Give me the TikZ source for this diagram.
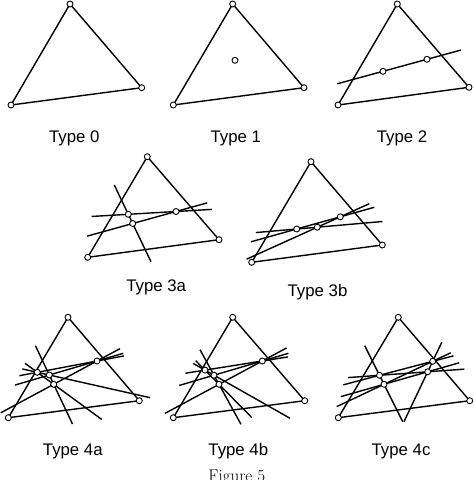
\documentclass[tikz,border=0pt]{standalone}
\usepackage{fontspec}
\setsansfont{Liberation Sans}
\usetikzlibrary{calc}

\begin{document}
\begin{tikzpicture}[x=1pt,y=-1pt]
\tikzset{
vertex/.style = {draw, circle, fill=white, inner sep=0pt, minimum size=6pt, line width=0.9pt},
segment/.style = {line width=1.4pt},
typelabel/.style = {anchor=base, font=\sffamily\fontsize{16.8}{19}\selectfont},
figlabel/.style = {anchor=base, font=\fontsize{17}{19}\selectfont}
}
\useasboundingbox (0,0) rectangle (474,480);

% Type 0
\coordinate (t0top) at (70,4);
\coordinate (t0right) at (141.7,87.7);
\coordinate (t0left) at (11,105);
\draw [segment] (t0top) -- (t0right) -- (t0left) -- cycle;
\node [vertex] (v0a) at (t0top) {};
\node [vertex] (v0b) at (t0right) {};
\node [vertex] (v0c) at (t0left) {};
\node [typelabel] (type0) at (74.3,142) {Type 0};

% Type 1
\coordinate (t1top) at (232.7,4);
\coordinate (t1right) at (304,87.7);
\coordinate (t1left) at (173.3,105);
\coordinate (t1p) at (235,60.3);
\draw [segment] (t1top) -- (t1right) -- (t1left) -- cycle;
\node [vertex] (v1a) at (t1top) {};
\node [vertex] (v1b) at (t1right) {};
\node [vertex] (v1c) at (t1left) {};
\node [vertex] (v1p) at (t1p) {};
\node [typelabel] (type1) at (235.8,142) {Type 1};

% Type 2
\coordinate (t2top) at (397.3,4);
\coordinate (t2right) at (469,87.3);
\coordinate (t2left) at (338,105);
\coordinate (t2p) at (383,71.3);
\coordinate (t2q) at (427,59.3);
\draw [segment] (t2top) -- (t2right) -- (t2left) -- cycle;
\draw [segment] ($(t2p)!-1.04!(t2q)$) -- ($(t2p)!1.77!(t2q)$);
\node [vertex] (v2a) at (t2top) {};
\node [vertex] (v2b) at (t2right) {};
\node [vertex] (v2c) at (t2left) {};
\node [vertex] (v2p) at (t2p) {};
\node [vertex] (v2q) at (t2q) {};
\node [typelabel] (type2) at (402,142) {Type 2};

% Type 3a
\coordinate (t3top) at (147.3,156.7);
\coordinate (t3right) at (219,239.7);
\coordinate (t3left) at (87.7,257.3);
\coordinate (t3p) at (128.3,214.3);
\coordinate (t3q) at (176,211.5);
\coordinate (t3r) at (132.7,223.5);
\draw [segment] (t3top) -- (t3right) -- (t3left) -- cycle;
\draw [segment] ($(t3p)!-3.18!(t3r)$) -- ($(t3p)!5.15!(t3r)$);
\draw [segment] ($(t3p)!-0.77!(t3q)$) -- ($(t3p)!1.75!(t3q)$);
\draw [segment] ($(t3r)!-1.05!(t3q)$) -- ($(t3r)!1.72!(t3q)$);
\node [vertex] (v3a) at (t3top) {};
\node [vertex] (v3b) at (t3right) {};
\node [vertex] (v3c) at (t3left) {};
\node [vertex] (v3p) at (t3p) {};
\node [vertex] (v3q) at (t3q) {};
\node [vertex] (v3r) at (t3r) {};
\node [typelabel] (type3a) at (156.2,291.5) {Type 3a};

% Type 3b
\coordinate (t3btop) at (311,161.7);
\coordinate (t3bright) at (382.3,245);
\coordinate (t3bleft) at (251.7,262.3);
\coordinate (t3bp) at (296.7,229);
\coordinate (t3bq) at (317.3,227.2);
\coordinate (t3br) at (340.3,216.8);
\draw [segment] (t3btop) -- (t3bright) -- (t3bleft) -- cycle;
\draw [segment] ($(t3bp)!-1.98!(t3bq)$) -- ($(t3bp)!4.16!(t3bq)$);
\draw [segment] ($(t3bp)!-1.05!(t3br)$) -- ($(t3bp)!1.78!(t3br)$);
\draw [segment] ($(t3bq)!-3.07!(t3br)$) -- ($(t3bq)!2.26!(t3br)$);
\node [vertex] (v3ba) at (t3btop) {};
\node [vertex] (v3bb) at (t3bright) {};
\node [vertex] (v3bc) at (t3bleft) {};
\node [vertex] (v3bp) at (t3bp) {};
\node [vertex] (v3bq) at (t3bq) {};
\node [vertex] (v3br) at (t3br) {};
\node [typelabel] (type3b) at (317.5,296) {Type 3b};

% Type 4a
\coordinate (t4atop) at (68,317.3);
\coordinate (t4aright) at (139.3,400.7);
\coordinate (t4aleft) at (8.3,417.7);
\coordinate (t4ap) at (37.3,372.3);
\coordinate (t4aq) at (49.3,375);
\coordinate (t4ar) at (53.7,384.3);
\coordinate (t4as) at (97,361);
\draw [segment] (t4atop) -- (t4aright) -- (t4aleft) -- cycle;
\draw [segment] ($(t4ar)!-1.22!(t4as)$) -- ($(t4ar)!1.53!(t4as)$);
\draw [segment] ($(t4aq)!-0.72!(t4as)$) -- ($(t4aq)!1.55!(t4as)$);
\draw [segment] ($(t4ap)!-0.30!(t4as)$) -- ($(t4ap)!1.45!(t4as)$);
\draw [segment] ($(t4ap)!-1.25!(t4aq)$) -- ($(t4ap)!9.4!(t4aq)$);
\draw [segment] ($(t4ap)!-0.75!(t4ar)$) -- ($(t4ap)!3.93!(t4ar)$);
\draw [segment] ($(t4aq)!-3.15!(t4ar)$) -- ($(t4aq)!5.27!(t4ar)$);
\node [vertex] (v4aa) at (t4atop) {};
\node [vertex] (v4ab) at (t4aright) {};
\node [vertex] (v4ac) at (t4aleft) {};
\node [vertex] (v4ap) at (t4ap) {};
\node [vertex] (v4aq) at (t4aq) {};
\node [vertex] (v4ar) at (t4ar) {};
\node [vertex] (v4as) at (t4as) {};
\node [typelabel] (type4a) at (72.8,455) {Type 4a};

% Type 4b
\coordinate (t4btop) at (232.7,317.3);
\coordinate (t4bright) at (304.7,400.7);
\coordinate (t4bleft) at (173.3,417.7);
\coordinate (t4bp) at (205,370.1);
\coordinate (t4bq) at (214,375.2);
\coordinate (t4br) at (219,384.3);
\coordinate (t4bs) at (262.3,361);
\draw [segment] (t4btop) -- (t4bright) -- (t4bleft) -- cycle;
\draw [segment] ($(t4br)!-1.25!(t4bs)$) -- ($(t4br)!1.56!(t4bs)$);
\draw [segment] ($(t4bq)!-0.72!(t4bs)$) -- ($(t4bq)!1.54!(t4bs)$);
\draw [segment] ($(t4bp)!-0.34!(t4bs)$) -- ($(t4bp)!1.45!(t4bs)$);
\draw [segment] ($(t4bp)!-1.3!(t4bq)$) -- ($(t4bp)!9.44!(t4bq)$);
\draw [segment] ($(t4bp)!-0.66!(t4br)$) -- ($(t4bp)!3.34!(t4br)$);
\draw [segment] ($(t4bq)!-2.8!(t4br)$) -- ($(t4bq)!5.4!(t4br)$);
\node [vertex] (v4ba) at (t4btop) {};
\node [vertex] (v4bb) at (t4bright) {};
\node [vertex] (v4bc) at (t4bleft) {};
\node [vertex] (v4bp) at (t4bp) {};
\node [vertex] (v4bq) at (t4bq) {};
\node [vertex] (v4br) at (t4br) {};
\node [vertex] (v4bs) at (t4bs) {};
\node [typelabel] (type4b) at (238.3,455) {Type 4b};

% Type 4c
\coordinate (t4ctop) at (398.3,317.3);
\coordinate (t4cright) at (469.7,400.7);
\coordinate (t4cleft) at (338.3,417.7);
\coordinate (t4cp) at (379.5,375.3);
\coordinate (t4cq) at (384,384.3);
\coordinate (t4cr) at (432.7,361.3);
\coordinate (t4cs) at (427.7,371.8);
\draw [segment] (t4ctop) -- (t4cright) -- (t4cleft) -- cycle;
\draw [segment] ($(t4cp)!-3.29!(t4cq)$) -- ($(t4cp)!5.16!(t4cq)$);
\draw [segment] ($(t4cr)!-1.81!(t4cs)$) -- ($(t4cr)!5.75!(t4cs)$);
\draw [segment] ($(t4cp)!-0.65!(t4cs)$) -- ($(t4cp)!1.76!(t4cs)$);
\draw [segment] ($(t4cp)!-0.68!(t4cr)$) -- ($(t4cp)!1.39!(t4cr)$);
\draw [segment] ($(t4cq)!-0.99!(t4cs)$) -- ($(t4cq)!1.72!(t4cs)$);
\draw [segment] ($(t4cq)!-0.97!(t4cr)$) -- ($(t4cq)!1.37!(t4cr)$);
\node [vertex] (v4ca) at (t4ctop) {};
\node [vertex] (v4cb) at (t4cright) {};
\node [vertex] (v4cc) at (t4cleft) {};
\node [vertex] (v4cp) at (t4cp) {};
\node [vertex] (v4cq) at (t4cq) {};
\node [vertex] (v4cr) at (t4cr) {};
\node [vertex] (v4cs) at (t4cs) {};
\node [typelabel] (type4c) at (401,455) {Type 4c};

\node [figlabel] (figure) at (236.7,481) {Figure 5};
\end{tikzpicture}
\end{document}
